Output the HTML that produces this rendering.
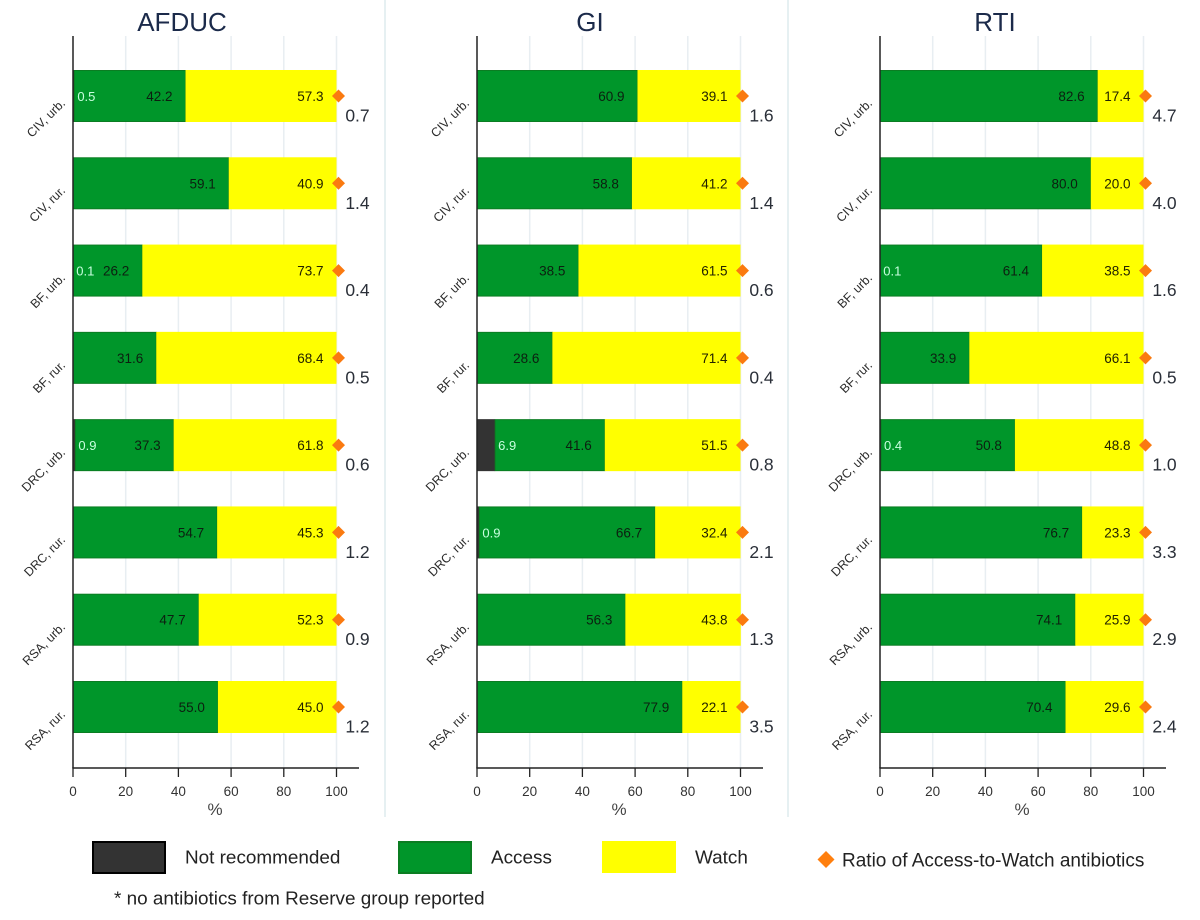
<!DOCTYPE html>
<html lang="en">
<head>
<meta charset="utf-8">
<title>Antibiotic use by AWaRe group</title>
<style>
  html, body { margin: 0; padding: 0; background: #fff; }
  svg { display: block; width: 1200px; height: 920px; font-family: "Liberation Sans", Arial, sans-serif; filter: blur(0.35px); }
</style>
</head>
<body>
<svg id="chart" xmlns="http://www.w3.org/2000/svg" width="1200" height="920" viewBox="0 0 1200 920">
  <rect x="0" y="0" width="1200" height="920" fill="#ffffff"/>
  <line x1="385" x2="385" y1="0" y2="817" stroke="#e6f0f2" stroke-width="2"/>
  <line x1="788" x2="788" y1="0" y2="817" stroke="#e6f0f2" stroke-width="2"/>
  <g id="panels"></g>
  <g>
    <rect x="93" y="842" width="72" height="31" fill="#333333" stroke="#000000" stroke-width="2"/>
    <text x="185" y="863.500" font-size="18.900" fill="#222222">Not recommended</text>
    <rect x="399" y="842" width="72" height="31" fill="#00962a" stroke="#0b7d22" stroke-width="2"/>
    <text x="491" y="863.500" font-size="18.900" fill="#222222">Access</text>
    <rect x="602" y="841" width="74" height="32" fill="#ffff00"/>
    <text x="695" y="863.500" font-size="18.900" fill="#222222">Watch</text>
    <polygon points="826,851 834.500,859.500 826,868 817.500,859.500" fill="#ff7f0e"/>
    <text x="842" y="866.500" font-size="19" fill="#222222">Ratio of Access-to-Watch antibiotics</text>
    <text x="114" y="904.500" font-size="18.900" fill="#222222">* no antibiotics from Reserve group reported</text>
  </g>
</svg>
<script>
const categories = ["CIV, urb.", "CIV, rur.", "BF, urb.", "BF, rur.", "DRC, urb.", "DRC, rur.", "RSA, urb.", "RSA, rur."];
const xTickValues = [0, 20, 40, 60, 80, 100];
const panelTitles = ["AFDUC", "GI", "RTI"];

const afducNotRecommended = [0.5, 0, 0.1, 0, 0.9, 0, 0, 0];
const afducAccess = [42.2, 59.1, 26.2, 31.6, 37.3, 54.7, 47.7, 55.0];
const afducWatch = [57.3, 40.9, 73.7, 68.4, 61.8, 45.3, 52.3, 45.0];
const afducRatio = [0.7, 1.4, 0.4, 0.5, 0.6, 1.2, 0.9, 1.2];

const giNotRecommended = [0, 0, 0, 0, 6.9, 0.9, 0, 0];
const giAccess = [60.9, 58.8, 38.5, 28.6, 41.6, 66.7, 56.3, 77.9];
const giWatch = [39.1, 41.2, 61.5, 71.4, 51.5, 32.4, 43.8, 22.1];
const giRatio = [1.6, 1.4, 0.6, 0.4, 0.8, 2.1, 1.3, 3.5];

const rtiNotRecommended = [0, 0, 0.1, 0, 0.4, 0, 0, 0];
const rtiAccess = [82.6, 80.0, 61.4, 33.9, 50.8, 76.7, 74.1, 70.4];
const rtiWatch = [17.4, 20.0, 38.5, 66.1, 48.8, 23.3, 25.9, 29.6];
const rtiRatio = [4.7, 4.0, 1.6, 0.5, 1.0, 3.3, 2.9, 2.4];

const panelNotRecommended = [afducNotRecommended, giNotRecommended, rtiNotRecommended];
const panelAccess = [afducAccess, giAccess, rtiAccess];
const panelWatch = [afducWatch, giWatch, rtiWatch];
const panelRatio = [afducRatio, giRatio, rtiRatio];

const SVG_NS = "http://www.w3.org/2000/svg";
const panelsRoot = document.getElementById("panels");
const panelLeft = [73, 477, 880];
const titleCenter = [182, 590, 995];
const UNITS = 263.5 / 100;
const AXIS_TOP = 36, AXIS_BOTTOM = 768, BAR_H = 52;

function make(tag, attrs, parent, text) {
  const el = document.createElementNS(SVG_NS, tag);
  Object.keys(attrs).forEach(function (k) { el.setAttribute(k, attrs[k]); });
  if (text !== undefined) el.textContent = text;
  parent.appendChild(el);
  return el;
}
function slug(s) {
  return s.toLowerCase().replace(/[^a-z0-9]+/g, "-").replace(/-+$/, "");
}
function yCenter(i) {
  return 96 + i * (707 - 96) / (categories.length - 1);
}

panelTitles.forEach(function (title, p) {
  const x0 = panelLeft[p];
  const xScale = function (v) { return x0 + v * UNITS; };
  const key = slug(title);

  const g = make("g", {}, panelsRoot);
  
  

  const t = make("text", { x: titleCenter[p], y: 31, "font-size": 26, "text-anchor": "middle", fill: "#1b2a4a" }, g, title);
  
  

  xTickValues.forEach(function (v) {
    if (v === 0) return;
    const grid = make("line", { x1: xScale(v), x2: xScale(v), y1: AXIS_TOP, y2: AXIS_BOTTOM, stroke: "#e8eef2", "stroke-width": 1.5 }, g);
    
    
  });

  categories.forEach(function (cat, i) {
    const cy = yCenter(i);
    const top = cy - BAR_H / 2;
    const nr = panelNotRecommended[p][i];
    const acc = panelAccess[p][i];
    const wat = panelWatch[p][i];
    const ratio = panelRatio[p][i];
    const rowKey = key + '-' + slug(cat);

    if (nr > 0) {
      const nrBar = make("rect", { x: xScale(0), y: top, width: nr * UNITS, height: BAR_H, fill: "#333333" }, g);
      
      
    }
    const accBar = make("rect", { x: xScale(nr), y: top + 0.5, width: acc * UNITS, height: BAR_H - 1, fill: "#00962a", stroke: "#0b7d22", "stroke-width": 1 }, g);
    
    

    const watBar = make("rect", { x: xScale(nr + acc), y: top, width: wat * UNITS, height: BAR_H, fill: "#ffff00" }, g);
    
    

    if (nr > 0) {
      const nrLabel = make("text", { x: xScale(nr) + 3, y: cy + 5, "font-size": 13, fill: "#c8ffdf" }, g, nr.toFixed(1));
      
      
    }
    const accLabel = make("text", { x: xScale(nr + acc) - 13, y: cy + 5, "font-size": 13.5, "text-anchor": "end", fill: "#0c1f10" }, g, acc.toFixed(1));
    
    

    const watLabel = make("text", { x: xScale(100) - 13, y: cy + 5, "font-size": 13.5, "text-anchor": "end", fill: "#222200" }, g, wat.toFixed(1));
    
    

    const mx = xScale(100) + 2;
    const diamond = make("polygon", { points: [mx, cy - 6.5, mx + 6.5, cy, mx, cy + 6.5, mx - 6.5, cy].join(" "), fill: "#fa7a10" }, g);
    
    

    const ratioLabel = make("text", { x: xScale(100) + 21, y: cy + 25.5, "font-size": 17.5, "text-anchor": "middle", fill: "#2a2f38" }, g, ratio.toFixed(1));
    
    

    const catLabel = make("text", { x: 0, y: 0, "font-size": 12.5, "text-anchor": "end", fill: "#2b2b2b", transform: "translate(" + (x0 - 7) + " " + (cy + 8) + ") rotate(-45)" }, g, cat);
    
    
  });

  const yAxis = make("line", { x1: x0, x2: x0, y1: AXIS_TOP, y2: AXIS_BOTTOM, stroke: "#222222", "stroke-width": 1.5 }, g);
  
  

  const xAxis = make("line", { x1: x0 - 0.7, x2: x0 + 286, y1: AXIS_BOTTOM, y2: AXIS_BOTTOM, stroke: "#222222", "stroke-width": 1.5 }, g);
  
  

  xTickValues.forEach(function (v) {
    const tick = make("line", { x1: xScale(v), x2: xScale(v), y1: AXIS_BOTTOM, y2: AXIS_BOTTOM + 9, stroke: "#222222", "stroke-width": 1.3 }, g);
    
    

    const tickLabel = make("text", { x: xScale(v), y: 796, "font-size": 13.5, "text-anchor": "middle", fill: "#333333" }, g, String(v));
    
    
  });

  const axisTitle = make("text", { x: x0 + 142, y: 815, "font-size": 17, "text-anchor": "middle", fill: "#444444" }, g, "%");
  
  
});
</script>
</body>
</html>
